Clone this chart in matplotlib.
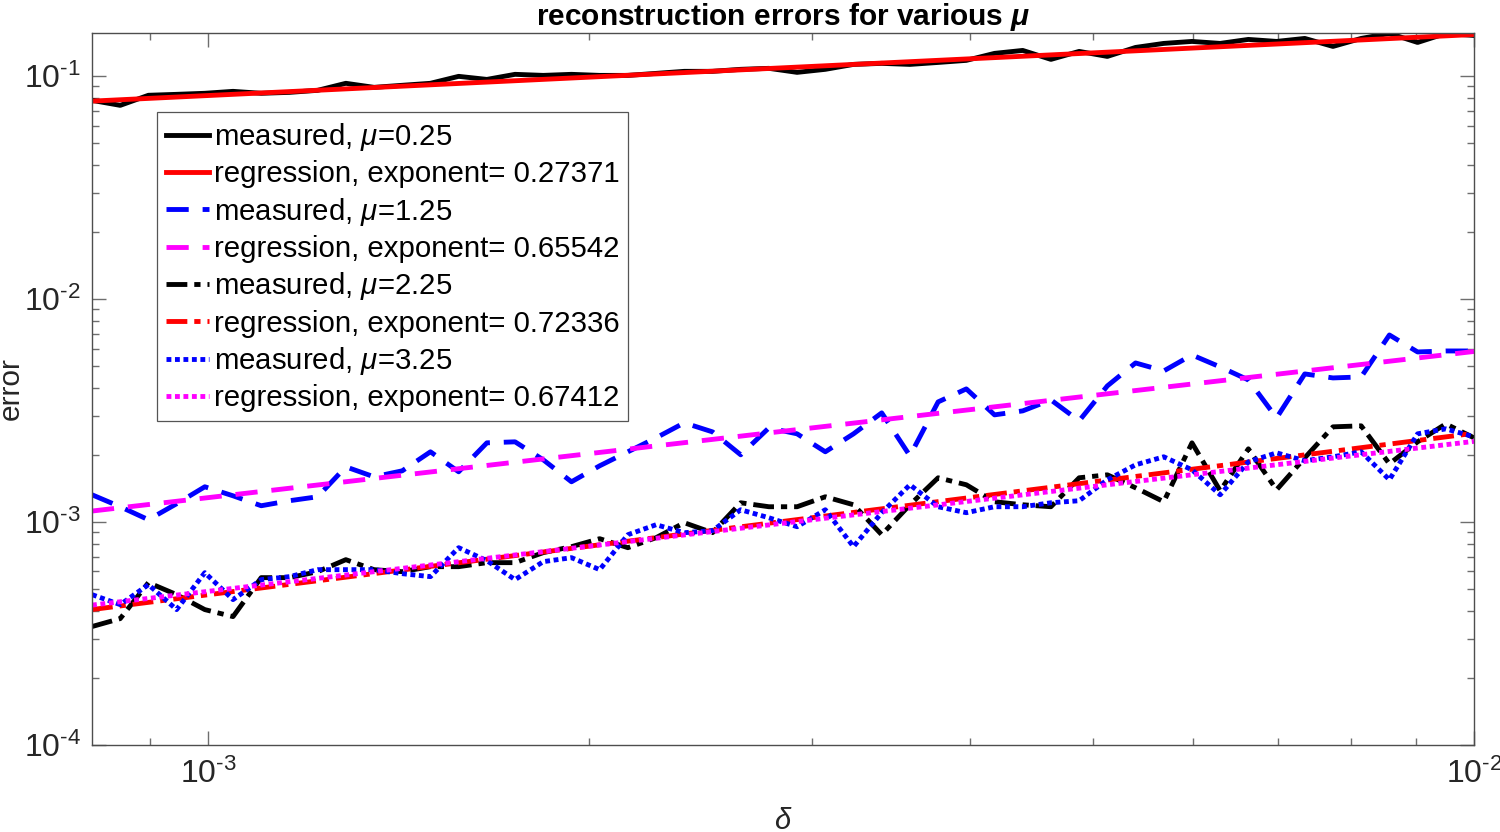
import matplotlib
matplotlib.use("Agg")
import matplotlib.pyplot as plt
from matplotlib.ticker import LogLocator, NullFormatter, FuncFormatter
import math

plt.rcParams['font.family'] = ['Liberation Sans', 'DejaVu Sans']
plt.rcParams['mathtext.fontset'] = 'custom'
plt.rcParams['mathtext.rm'] = 'Liberation Sans'
plt.rcParams['mathtext.it'] = 'Liberation Sans:italic'
plt.rcParams['mathtext.bf'] = 'Liberation Sans:bold:italic'
plt.rcParams['lines.scale_dashes'] = False

# ---- data ----
delta = [8.0995e-4, 8.5258e-4, 8.9745e-4, 9.4468e-4, 9.9440e-4, 1.04674e-3, 1.10183e-3,
         1.15982e-3, 1.22087e-3, 1.28512e-3, 1.35276e-3, 1.42396e-3, 1.49890e-3, 1.57779e-3,
         1.66083e-3, 1.74825e-3, 1.84026e-3, 1.93711e-3, 2.03907e-3, 2.14639e-3, 2.25936e-3,
         2.37827e-3, 2.50344e-3, 2.63520e-3, 2.77390e-3, 2.91989e-3, 3.07357e-3, 3.23534e-3,
         3.40562e-3, 3.58486e-3, 3.77354e-3, 3.97214e-3, 4.18120e-3, 4.40127e-3, 4.63291e-3,
         4.87675e-3, 5.13342e-3, 5.40360e-3, 5.68800e-3, 5.98737e-3, 6.30249e-3, 6.63420e-3,
         6.98337e-3, 7.35092e-3, 7.73781e-3, 8.14506e-3, 8.57375e-3, 9.02500e-3, 9.50000e-3,
         1.0e-2]

err_mu025 = [0.0778, 0.0739, 0.0820, 0.0828, 0.0837, 0.0854, 0.0837, 0.0845, 0.0863, 0.0928,
             0.0890, 0.0909, 0.0928, 0.0997, 0.0966, 0.1018, 0.1007, 0.1018, 0.1007, 0.1007,
             0.1028, 0.1050, 0.1050, 0.1072, 0.1083, 0.1039, 0.1072, 0.1128, 0.1140, 0.1128,
             0.1151, 0.1176, 0.1264, 0.1303, 0.1188, 0.1290, 0.1225, 0.1344, 0.1401, 0.1430,
             0.1401, 0.1460, 0.1430, 0.1475, 0.1358, 0.1475, 0.1553, 0.1415, 0.1553, 0.1521]

err_mu125 = [1.325e-3, 1.171e-3, 1.024e-3, 1.208e-3, 1.439e-3, 1.311e-3, 1.183e-3, 1.246e-3,
             1.298e-3, 1.768e-3, 1.595e-3, 1.697e-3, 2.065e-3, 1.680e-3, 2.265e-3, 2.289e-3,
             1.901e-3, 1.515e-3, 1.787e-3, 2.065e-3, 2.386e-3, 2.785e-3, 2.537e-3, 2.002e-3,
             2.644e-3, 2.486e-3, 2.065e-3, 2.486e-3, 3.087e-3, 1.981e-3, 3.457e-3, 3.954e-3,
             3.024e-3, 3.151e-3, 3.529e-3, 2.843e-3, 4.078e-3, 5.169e-3, 4.760e-3, 5.614e-3,
             4.960e-3, 4.338e-3, 2.931e-3, 4.615e-3, 4.428e-3, 4.474e-3, 6.900e-3, 5.790e-3,
             5.850e-3, 5.850e-3]

err_mu225 = [3.398e-4, 3.688e-4, 5.348e-4, 4.725e-4, 4.048e-4, 3.765e-4, 5.631e-4, 5.631e-4,
             5.989e-4, 6.779e-4, 6.114e-4, 5.989e-4, 6.306e-4, 6.306e-4, 6.573e-4, 6.573e-4,
             7.290e-4, 7.752e-4, 8.418e-4, 7.672e-4, 8.507e-4, 9.928e-4, 8.956e-4, 1.220e-3,
             1.171e-3, 1.171e-3, 1.298e-3, 1.195e-3, 8.772e-4, 1.195e-3, 1.579e-3, 1.469e-3,
             1.233e-3, 1.195e-3, 1.171e-3, 1.579e-3, 1.628e-3, 1.424e-3, 1.233e-3, 2.265e-3,
             1.381e-3, 2.129e-3, 1.395e-3, 1.941e-3, 2.672e-3, 2.700e-3, 1.824e-3, 2.289e-3,
             2.755e-3, 2.386e-3]

err_mu325 = [4.725e-4, 4.262e-4, 5.239e-4, 4.048e-4, 5.928e-4, 4.488e-4, 5.516e-4, 5.689e-4,
             6.114e-4, 6.114e-4, 6.114e-4, 5.867e-4, 5.689e-4, 7.672e-4, 6.710e-4, 5.516e-4,
             6.641e-4, 6.921e-4, 6.114e-4, 8.772e-4, 9.725e-4, 8.956e-4, 9.143e-4, 1.135e-3,
             1.045e-3, 9.527e-4, 1.135e-3, 7.752e-4, 1.101e-3, 1.469e-3, 1.171e-3, 1.101e-3,
             1.171e-3, 1.171e-3, 1.220e-3, 1.246e-3, 1.547e-3, 1.805e-3, 1.961e-3, 1.715e-3,
             1.325e-3, 1.862e-3, 2.043e-3, 1.882e-3, 1.961e-3, 2.065e-3, 1.547e-3, 2.486e-3,
             2.617e-3, 2.410e-3]

# regression lines: end points (straight lines in log-log)
reg_x = [8.0995e-4, 1.0e-2]
reg_mu025 = [0.0772, 0.1536]
reg_mu125 = [1.12e-3, 5.82e-3]
reg_mu225 = [4.05e-4, 2.50e-3]
reg_mu325 = [4.24e-4, 2.30e-3]

mus = ['0.25', '1.25', '2.25', '3.25']
exponents = ['0.27371', '0.65542', '0.72336', '0.67412']

# ---- styles ----
LW = 3.5
dash = (0, (16, 10))
dashdot = (0, (15, 5, 4.5, 5))
dot = (0, (3.5, 2.6))

fig = plt.figure(figsize=(15.0, 8.32), dpi=100)
ax = fig.add_axes([92/1500, 1-745/832, (1474-92)/1500, (745-33)/832])

meas = [err_mu025, err_mu125, err_mu225, err_mu325]
regs = [reg_mu025, reg_mu125, reg_mu225, reg_mu325]
mcol = ['black', 'blue', 'black', 'blue']
rcol = ['red', 'magenta', 'red', 'magenta']
styles = ['-', dash, dashdot, dot]

for m, r, mc, rc, ls, mu, ex in zip(meas, regs, mcol, rcol, styles, mus, exponents):
    ax.plot(delta, m, color=mc, lw=LW, linestyle=ls, dash_capstyle='butt',
            label=r'measured, $\mu$=' + mu)
    ax.plot(reg_x, r, color=rc, lw=LW, linestyle=ls, dash_capstyle='butt',
            label='regression, exponent= ' + ex)

ax.set_xscale('log')
ax.set_yscale('log')
ax.set_xlim(8.0995e-4, 1.0e-2)
ax.set_ylim(1e-4, 0.156)


def pow_fmt(v, pos):
    e = int(round(math.log10(v)))
    sign = r'\text{-}' if e < 0 else ''
    return r'$\mathdefault{10^{%s%d}}$' % (sign, abs(e))


ax.yaxis.set_major_locator(LogLocator(base=10, numticks=10))
ax.yaxis.set_minor_locator(LogLocator(base=10, subs=range(2, 10), numticks=100))
ax.xaxis.set_minor_locator(LogLocator(base=10, subs=range(2, 10), numticks=100))
ax.xaxis.set_major_formatter(FuncFormatter(pow_fmt))
ax.yaxis.set_major_formatter(FuncFormatter(pow_fmt))
ax.xaxis.set_minor_formatter(NullFormatter())
ax.yaxis.set_minor_formatter(NullFormatter())

axcol = '#262626'
spcol = '#4d4d4d'
for s in ax.spines.values():
    s.set_color(spcol)
    s.set_linewidth(1.0)
ax.tick_params(which='both', direction='in', top=True, right=True, color='#6e6e6e',
               labelcolor=axcol, labelsize=23)
ax.tick_params(which='major', length=10, width=1.0)
ax.tick_params(which='minor', length=5, width=1.0)
ax.tick_params(axis='x', which='major', pad=10)
ax.tick_params(axis='y', which='major', pad=8)

ax.set_title(r'reconstruction errors for various $\mathbf{\mu}$', fontsize=21.5,
             fontweight='bold', color='black', pad=5)
ax.set_xlabel(r'$\delta$', fontsize=21, color=axcol)
ax.xaxis.set_label_coords(0.5, -0.087)
ax.set_ylabel('error', fontsize=21.5, color=axcol)
ax.yaxis.set_label_coords(-0.0485, 0.5)

leg = ax.legend(loc='upper left', bbox_to_anchor=((157-92)/1382, (745-112)/712),
                borderaxespad=0, fontsize=21.2, handlelength=1.45, handletextpad=0.18,
                labelspacing=0.25, borderpad=0.3, fancybox=False, framealpha=1,
                edgecolor='#555555')
leg.get_frame().set_linewidth(0.9)

fig.savefig('out.png', dpi=100)
